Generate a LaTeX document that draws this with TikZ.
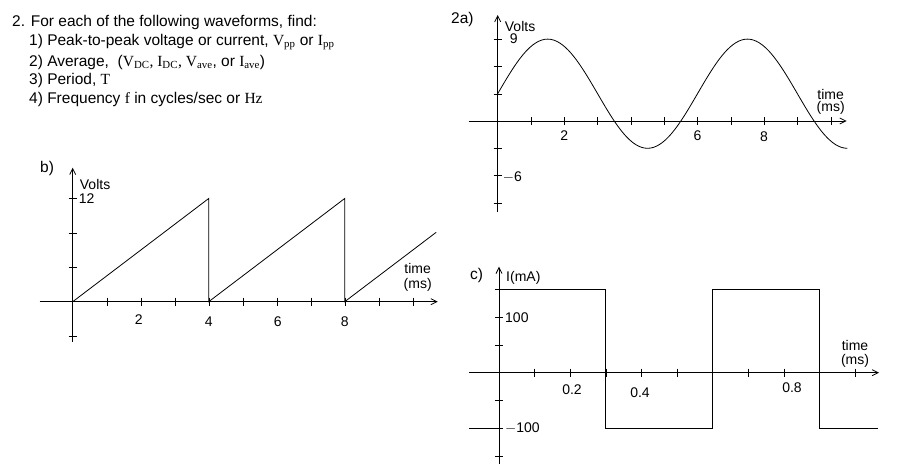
\documentclass[tikz,border=0pt]{standalone}
\usepackage{fontspec}
\setmainfont{Liberation Sans}
\newfontfamily\tms{Liberation Serif}
\usetikzlibrary{arrows.meta}
\begin{document}
\begin{tikzpicture}[x=1pt,y=-1pt,
  ax/.style={line width=0.8pt,-{Straight Barb[length=6pt,width=6pt]}},
  wave/.style={line width=0.8pt},
  tk/.style={font=\fontsize{14}{14}\selectfont,inner sep=0pt},
  txt/.style={font=\fontsize{15.5}{17}\selectfont,anchor=west,inner sep=0pt}]
\useasboundingbox (0,0) rectangle (906,464);
% text
\node[txt] (h) at (12,22) {2. For each of the following waveforms, find:};
\node[txt] (l1) at (29,42) {1) Peak-to-peak voltage or current, {\tms V\textsubscript{pp}} or {\tms I\textsubscript{pp}}};
\node[txt] (l2) at (29,62) {2) Average,\ \ ({\tms V\textsubscript{DC}, I\textsubscript{DC}, V\textsubscript{ave}}, or {\tms I\textsubscript{ave}})};
\node[txt] (l3) at (29,80) {3) Period, {\tms T}};
\node[txt] (l4) at (29,99) {4) Frequency {\tms f} in cycles/sec or {\tms Hz}};
% ---- 2a
\begin{scope}[shift={(497.7,121)}]
\draw[ax] (-29,0) -- (349,0);
\draw[ax] (0,91) -- (0,-106);
\foreach \i in {1,...,10} \draw (\i*33.3,-4) -- (\i*33.3,4);
\foreach \j in {-3,-2,-1,1,2,3} \draw (-4,\j*27.3) -- (4,\j*27.3);
\draw[wave,domain=0:10.5,samples=120,smooth] plot ({\x*33.3},{-(3+6*sin(\x*60))*27.3/3});
\node[tk] (a2) at (66.6,15) {2};
\node[tk] (a6) at (199.8,15) {6};
\node[tk] (a8) at (266.4,16) {8};
\node[tk,anchor=west] (a9) at (12,-82) {9};
\node[tk,anchor=west] (am6) at (5,56) {$-$6};
\node[tk,anchor=west] (av) at (7,-95) {Volts};
\node[tk] (at1) at (333,-27) {time};
\node[tk] (at2) at (333,-13) {(ms)};
\end{scope}
\node[txt] (l2a) at (451,19) {2a)};
% ---- b
\begin{scope}[shift={(72.7,301.7)}]
\draw[ax] (-33,0) -- (365,0);
\draw[ax] (0,40) -- (0,-134);
\foreach \i in {1,...,10} \draw (\i*34,-4) -- (\i*34,4);
\foreach \j in {1,-1,-2,-3} \draw (-4,\j*34.4) -- (4,\j*34.4);
\draw[wave] (0,0) -- (136,-103.2) -- (136,0) -- (272,-103.2) -- (272,0) -- (363.5,-69.4);
\node[tk] (b2) at (66,18) {2};
\node[tk] (b4) at (136,20) {4};
\node[tk] (b6) at (205,20) {6};
\node[tk] (b8) at (272,20) {8};
\node[tk,anchor=west] (b12) at (6,-103) {12};
\node[tk,anchor=west] (bv) at (7,-117) {Volts};
\node[tk] (bt1) at (345,-33) {time};
\node[tk] (bt2) at (345,-17) {(ms)};
\end{scope}
\node[txt] (lb) at (40,168) {b)};
% ---- c
\begin{scope}[shift={(499,372.7)}]
\draw[ax] (-30,0) -- (380,0);
\draw[ax] (0,91) -- (0,-106);
\foreach \i in {1,...,10} \draw (\i*35.6,-4) -- (\i*35.6,4);
\foreach \j in {-3,-2,-1,1,2,3} \draw (-4,\j*27.7) -- (4,\j*27.7);
\draw[wave] (0,-83.1) -- (106.8,-83.1) -- (106.8,55.4) -- (213.6,55.4) -- (213.6,-83.1) -- (320.4,-83.1) -- (320.4,55.4) -- (379,55.4);
\draw[wave] (-30,55.4) -- (0,55.4);
\node[tk] (c2) at (73,17) {0.2};
\node[tk] (c4) at (141,20) {0.4};
\node[tk] (c8) at (293,15) {0.8};
\node[tk,anchor=west] (c100) at (6,-55.4) {100};
\node[tk,anchor=west] (cm100) at (6,55.4) {$-$100};
\node[tk,anchor=west] (ci) at (7,-95) {I(mA)};
\node[tk] (ct1) at (356,-27) {time};
\node[tk] (ct2) at (356,-12) {(ms)};
\end{scope}
\node[txt] (lc) at (470,275) {c)};
\end{tikzpicture}
\end{document}
